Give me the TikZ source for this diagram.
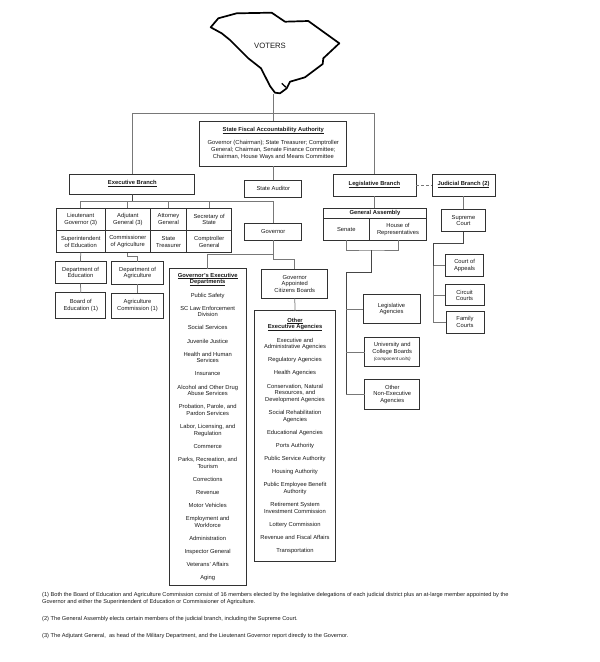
\documentclass[tikz,border=0pt]{standalone}
\usepackage{fontspec}
\setmainfont{Liberation Sans}
\newcommand{\headul}[1]{\vphantom{Ay}\underline{\smash{\textbf{#1}}}}
\begin{document}
\begin{tikzpicture}[x=1pt, y=-1pt]

    % Colors of the chart
    \definecolor{boxcol}{RGB}{50,50,50}
    \definecolor{linecol}{RGB}{120,120,120}
    \definecolor{darkline}{RGB}{70,70,70}
    \definecolor{txtcol}{RGB}{25,25,25}

    % Common styles
    \tikzset{
        orgbox/.style={draw=boxcol, line width=1pt, inner sep=0pt, outer sep=0pt, align=center,
            text=txtcol, font=\fontsize{5.8}{6.7}\selectfont},
        conn/.style={draw=linecol, line width=0.75pt},
        connd/.style={draw=darkline, line width=0.95pt},
        notetext/.style={anchor=north west, inner sep=0pt, align=left, text=txtcol,
            font=\fontsize{5.65}{7.2}\selectfont}
    }

    \useasboundingbox (0,0) rectangle (600,662);

    % ================== Voters outline ==================
    \draw[line width=1.7pt, line join=round] (210.7,27.3) -- (218.3,18.3) -- (236.7,13.3)
        -- (271.7,12.7) -- (285,21.7) -- (308.3,21) -- (339.3,43.3) -- (323.3,58.3)
        -- (322.7,64) -- (305,77.3) -- (290,81.7) -- (286.7,88.3) -- (280,93.3)
        -- (275,92.7) -- (270,86) -- (261,68.3) -- (248.3,58.3) -- (230,40)
        -- (221.7,33.3) -- cycle;
    \draw[line width=1.3pt] (281.7,83.3) -- (286,87.3);
    \node[text=txtcol, font=\fontsize{7.7}{9}\selectfont] (voters) at (270,46) {VOTERS};
    \coordinate (vtip) at (273,94);

    % ================== Top level ==================
    \node[orgbox, minimum width=146.7pt, minimum height=45pt] (fiscal) at (273.3,143.5)
        {\headul{State Fiscal Accountability Authority}\\[6.4pt]
         Governor (Chairman); State Treasurer; Comptroller\\
         General; Chairman, Senate Finance Committee;\\
         Chairman, House Ways and Means Committee};
    \node[orgbox, minimum width=124.7pt, minimum height=20pt] (execbr) at (132.3,184)
        {\headul{Executive Branch}};
    \node[orgbox, minimum width=56.7pt, minimum height=17pt] (auditor) at (273.3,188.5) {State Auditor};
    \node[orgbox, minimum width=83pt, minimum height=22pt] (legbr) at (374.5,185)
        {\headul{Legislative Branch}};
    \node[orgbox, minimum width=63pt, minimum height=22pt] (judbr) at (463.5,185)
        {\headul{Judicial Branch (2)}};

    \coordinate (topmid) at (273.3,113.7);
    \draw[conn] (vtip) -- (vtip |- topmid);
    \draw[conn] (execbr.north) |- (topmid) -| (legbr.north);
    \draw[conn] (topmid) -- (fiscal.north);
    \draw[conn] (fiscal.south) -- (auditor.north);
    \draw[conn, densely dashed] (legbr.east) -- (judbr.west);

    % ================== Executive officers ==================
    \node[orgbox, minimum width=49.3pt, minimum height=22.7pt] (lgov) at (80.7,219.35) {Lieutenant\\Governor (3)};
    \node[orgbox, minimum width=45pt, minimum height=22.7pt] (adjgen) at (127.8,219.35) {Adjutant\\General (3)};
    \node[orgbox, minimum width=36.4pt, minimum height=22.7pt] (attgen) at (168.5,219.35) {Attorney\\General};
    \node[orgbox, minimum width=45pt, minimum height=22.7pt] (secst) at (209.2,219.35) {Secretary of\\State};
    \node[orgbox, minimum width=49.3pt, minimum height=22pt] (supt) at (80.7,241.7) {Superintendent\\of Education};
    \node[orgbox, minimum width=45pt, minimum height=22pt] (comm) at (127.8,241.7) {Commissioner\\of Agriculture};
    \node[orgbox, minimum width=36.4pt, minimum height=22pt] (treas) at (168.5,241.7) {State\\Treasurer};
    \node[orgbox, minimum width=45pt, minimum height=22pt] (compt) at (209.2,241.7) {Comptroller\\General};

    \node[orgbox, minimum width=51pt, minimum height=22.4pt] (depted) at (80.5,272.5) {Department of\\Education};
    \node[orgbox, minimum width=50.3pt, minimum height=25.7pt] (boarded) at (80.8,305.8) {Board of\\Education (1)};
    \node[orgbox, minimum width=52.4pt, minimum height=22.4pt] (deptag) at (137.5,273.1) {Department of\\Agriculture};
    \node[orgbox, minimum width=52.4pt, minimum height=25pt] (agcomm) at (137.5,305.5) {Agriculture\\Commission (1)};

    \node[orgbox, minimum width=56.7pt, minimum height=17pt] (gov) at (273.3,231.5) {Governor};

    \coordinate (execbus) at (273.3,201.3);
    \coordinate (agjog) at (137.5,256.7);
    \draw[connd] (execbr.south) -- (execbr.south |- execbus);
    \foreach \officer in {lgov,adjgen,attgen,secst}
        \draw[conn] (\officer.north) |- (execbus);
    \draw[conn] (execbus) -- (gov.north);
    \draw[conn] (supt.south) -- (depted.north);
    \draw[conn] (depted.south) -- (boarded.north);
    \draw[conn] (comm.south) |- (agjog) -- (deptag.north);
    \draw[conn] (deptag.south) -- (agcomm.north);

    % ================== Governor's departments ==================
    \node[orgbox, minimum width=76.7pt, minimum height=316.3pt] (govdept) at (207.7,427.1)
        {\headul{Governor's Executive}\\
         \headul{Departments}\\[6.4pt]
         Public Safety\\[6.4pt]
         SC Law Enforcement\\Division\\[6.4pt]
         Social Services\\[6.4pt]
         Juvenile Justice\\[6.4pt]
         Health and Human\\Services\\[6.4pt]
         Insurance\\[6.4pt]
         Alcohol and Other Drug\\Abuse Services\\[6.4pt]
         Probation, Parole, and\\Pardon Services\\[6.4pt]
         Labor, Licensing, and\\Regulation\\[6.4pt]
         Commerce\\[6.4pt]
         Parks, Recreation, and\\Tourism\\[6.4pt]
         Corrections\\[6.4pt]
         Revenue\\[6.4pt]
         Motor Vehicles\\[6.4pt]
         Employment and\\Workforce\\[6.4pt]
         Administration\\[6.4pt]
         Inspector General\\[6.4pt]
         Veterans' Affairs\\[6.4pt]
         Aging};
    \node[orgbox, minimum width=66.3pt, minimum height=29.3pt] (boards) at (294.8,283.7)
        {Governor\\Appointed\\Citizens Boards};
    \node[orgbox, minimum width=80.6pt, minimum height=250.6pt] (otheragy) at (295,436)
        {\headul{Other}\\
         \headul{Executive Agencies}\\[6.4pt]
         Executive and\\Administrative Agencies\\[6.4pt]
         Regulatory Agencies\\[6.4pt]
         Health Agencies\\[6.4pt]
         Conservation, Natural\\Resources, and\\Development Agencies\\[6.4pt]
         Social Rehabilitation\\Agencies\\[6.4pt]
         Educational Agencies\\[6.4pt]
         Ports Authority\\[6.4pt]
         Public Service Authority\\[6.4pt]
         Housing Authority\\[6.4pt]
         Public Employee Benefit\\Authority\\[6.4pt]
         Retirement System\\Investment Commission\\[6.4pt]
         Lottery Commission\\[6.4pt]
         Revenue and Fiscal Affairs\\[6.4pt]
         Transportation};

    \coordinate (govleft) at (273.3,254.3);
    \coordinate (govright) at (273.3,259.3);
    \draw[conn] (gov.south) -- (govright) -| (boards.north);
    \draw[conn] (govleft) -| (govdept.north);
    \draw[conn] (boards.south) -- (otheragy.north);

    % ================== General Assembly ==================
    \node[orgbox, minimum width=103.4pt, minimum height=10.3pt] (genasm) at (375,213.15)
        {\textbf{General Assembly}};
    \node[orgbox, minimum width=46pt, minimum height=21.7pt] (senate) at (346.3,229.15) {Senate};
    \node[orgbox, minimum width=57.4pt, minimum height=21.7pt] (house) at (398,229.15) {House of\\Representatives};

    \node[orgbox, minimum width=57pt, minimum height=29.4pt] (legag) at (391.5,309) {Legislative\\Agencies};
    \node[orgbox, minimum width=55.3pt, minimum height=29.4pt] (univ) at (392.3,352)
        {University and\\College Boards\\{\fontsize{4.6}{5.4}\selectfont\itshape (component units)}};
    \node[orgbox, minimum width=55.3pt, minimum height=29.4pt] (nonexec) at (392.3,394.3)
        {Other\\Non-Executive\\Agencies};

    \coordinate (asmjoin) at (371,250);
    \coordinate (asmdrop) at (371,272.7);
    \coordinate (asmrail) at (346,272.7);
    \draw[conn] (legbr.south) -- (genasm.north -| legbr.south);
    \draw[conn] (senate.south) |- (asmjoin) -| (house.south);
    \draw[connd] (asmjoin) -- (asmdrop) -- (asmrail) -- (asmrail |- nonexec.west);
    \draw[conn] (asmrail |- nonexec.west) -- (nonexec.west);
    \draw[conn] (asmrail |- legag.west) -- (legag.west);
    \draw[conn] (asmrail |- univ.west) -- (univ.west);

    % ================== Courts ==================
    \node[orgbox, minimum width=44.4pt, minimum height=22.7pt] (supreme) at (463.5,220.35) {Supreme\\Court};
    \node[orgbox, minimum width=38.7pt, minimum height=21.3pt] (appeals) at (464.6,265.6) {Court of\\Appeals};
    \node[orgbox, minimum width=39pt, minimum height=20.7pt] (circuit) at (464.5,295.3) {Circuit\\Courts};
    \node[orgbox, minimum width=38pt, minimum height=22pt] (family) at (465,322) {Family\\Courts};

    \coordinate (courtjog) at (463.5,243.7);
    \coordinate (courtrail) at (433.7,243.7);
    \draw[conn] (judbr.south) -- (supreme.north);
    \draw[connd] (supreme.south) -- (courtjog) -- (courtrail) -- (courtrail |- appeals.west);
    \draw[conn] (courtrail |- appeals.west) -- (appeals.west);
    \draw[conn] (courtrail |- appeals.west) |- (family.west);
    \draw[conn] (courtrail |- circuit.west) -- (circuit.west);

    % ================== Notes ==================
    \node[notetext] (noteone) at (42,592.3)
        {(1) Both the Board of Education and Agriculture Commission consist of 16 members elected by the legislative delegations of each judicial district plus an at-large member appointed by the\\
         Governor and either the Superintendent of Education or Commissioner of Agriculture.};
    \node[notetext] (notetwo) at (42,616.5)
        {(2) The General Assembly elects certain members of the judicial branch, including the Supreme Court.};
    \node[notetext] (notethree) at (42,633.5)
        {(3) The Adjutant General,\ \ as head of the Military Department, and the Lieutenant Governor report directly to the Governor.};

\end{tikzpicture}
\end{document}
